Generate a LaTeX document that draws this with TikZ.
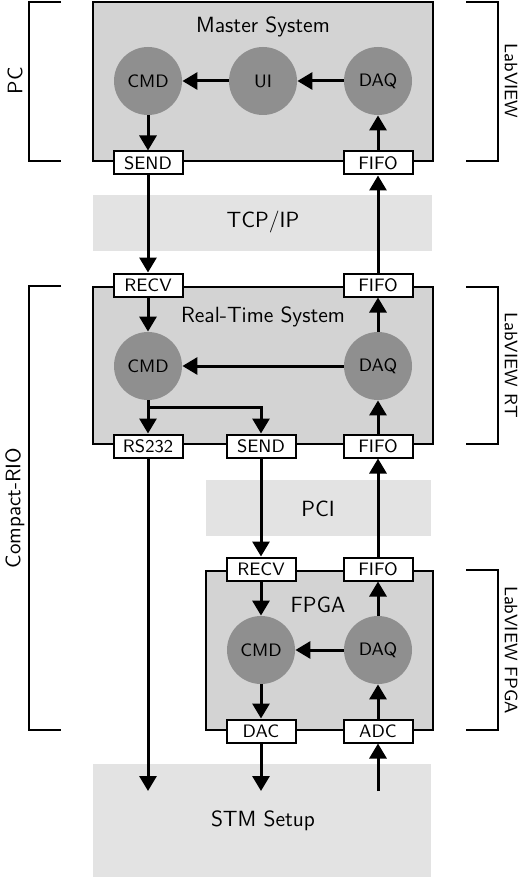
\documentclass[tikz,border=0pt]{standalone}
\definecolor{sysgray}{HTML}{D3D3D3}
\definecolor{bandgray}{HTML}{E3E3E3}
\definecolor{taskgray}{HTML}{8F8F8F}
\usepackage{tikz}
\usetikzlibrary{arrows.meta, calc}
\newcommand{\layerbracket}[3]
{
	\draw[bracketline] (#2) -- ++(#1,0) |- (#3)
}

\begin{document}
\begin{tikzpicture}[x=0.5pt, y=-0.5pt,
every node/.append style={font=\sffamily},
system/.style={draw, line width=1pt, fill=sysgray},
band/.style={fill=bandgray},
title/.style={font=\sffamily\fontsize{11}{13}\selectfont},
side/.style={font=\sffamily\fontsize{10.5}{12}\selectfont, rotate=90},
sider/.style={font=\sffamily\fontsize{9}{11}\selectfont, rotate=-90},
task/.style={circle, fill=taskgray, minimum size=34pt, inner sep=0pt, font=\sffamily\fontsize{9}{11}\selectfont},
port/.style={draw, line width=1pt, fill=white, minimum width=34.5pt, minimum height=11.5pt, inner sep=0pt, font=\sffamily\fontsize{9}{11}\selectfont},
flow/.style={line width=1.5pt, -{Triangle[length=7.5pt, width=8.5pt]}},
bracketline/.style={line width=1pt}]

\useasboundingbox (0,0) rectangle (520,877);

\fill[band] (93,195) rectangle (432,251);
\fill[band] (206,480) rectangle (431,536);
\fill[band] (93,764) rectangle (431,877);
\node[title] at (263,222) (TCP){TCP/IP};
\node[title] at (318,509) (PCI){PCI};
\node[title] at (263,821) (STM){STM Setup};

\draw[system] (93,2) rectangle (433,161);
\draw[system] (93,287) rectangle (433,444);
\draw[system] (206,571) rectangle (433,730);
\node[title] at (263,27) (MT){Master System};
\node[title] at (263,317) (RT){Real-Time System};
\node[title] at (318,605) (FT){FPGA};

\node[task] at (148,81) (MCMD){CMD};
\node[task] at (263,81) (MUI){UI};
\node[task] at (378,81) (MDAQ){DAQ};
\node[task] at (148,366) (RCMD){CMD};
\node[task] at (378,366) (RDAQ){DAQ};
\node[task] at (261,650) (FCMD){CMD};
\node[task] at (378,650) (FDAQ){DAQ};

\node[port] at (148,163) (MSEND){SEND};
\node[port] at (378,163) (MFIFO){FIFO};
\node[port] at (148,285) (RRECV){RECV};
\node[port] at (378,285) (RFIFOa){FIFO};
\node[port] at (148,446) (RRS){RS232};
\node[port] at (261,446) (RSEND){SEND};
\node[port] at (378,446) (RFIFOb){FIFO};
\node[port] at (261,569) (FRECV){RECV};
\node[port] at (378,569) (FFIFO){FIFO};
\node[port] at (261,731) (FDAC){DAC};
\node[port] at (378,731) (FADC){ADC};

\coordinate (rbranch) at (148,407);
\coordinate (stmA) at (148,791);
\coordinate (stmB) at (261,791);
\coordinate (stmC) at (378,791);

\draw[flow] (MDAQ) -- (MUI);
\draw[flow] (MUI) -- (MCMD);
\draw[flow] (MCMD) -- (MSEND);
\draw[flow] (MFIFO) -- (MDAQ);
\draw[flow] (MSEND) -- (RRECV);
\draw[flow] (RFIFOa) -- (MFIFO);
\draw[flow] (RRECV) -- (RCMD);
\draw[flow] (RDAQ) -- (RCMD);
\draw[flow] (RDAQ) -- (RFIFOa);
\draw[flow] (RFIFOb) -- (RDAQ);
\draw[flow] (RCMD) -- (RRS);
\draw[flow] (rbranch) -| (RSEND.north);
\draw[flow] (RSEND) -- (FRECV);
\draw[flow] (FFIFO) -- (RFIFOb);
\draw[flow] (FRECV) -- (FCMD);
\draw[flow] (FDAQ) -- (FCMD);
\draw[flow] (FDAQ) -- (FFIFO);
\draw[flow] (FADC) -- (FDAQ);
\draw[flow] (FCMD) -- (FDAC);
\draw[flow] (RRS) -- (stmA);
\draw[flow] (FDAC) -- (stmB);
\draw[flow] (stmC) -- (FADC);

\coordinate (PCa) at (61,2);
\coordinate (PCb) at (61,161);
\coordinate (CRa) at (61,286);
\coordinate (CRb) at (61,730);
\coordinate (LVa) at (466,2);
\coordinate (LVb) at (466,161);
\coordinate (LRa) at (466,287);
\coordinate (LRb) at (466,444);
\coordinate (LFa) at (466,570);
\coordinate (LFb) at (466,730);
\layerbracket{-32}{PCa}{PCb};
\layerbracket{-32}{CRa}{CRb};
\layerbracket{32}{LVa}{LVb};
\layerbracket{32}{LRa}{LRb};
\layerbracket{32}{LFa}{LFb};
\node[side] at (15,81) (PC){PC};
\node[side] at (15,508) (CR){Compact-RIO};
\node[sider] at (511,81) (LV){LabVIEW};
\node[sider] at (511,365) (LR){LabVIEW RT};
\node[sider] at (511,650) (LF){LabVIEW FPGA};
\end{tikzpicture}
\end{document}
